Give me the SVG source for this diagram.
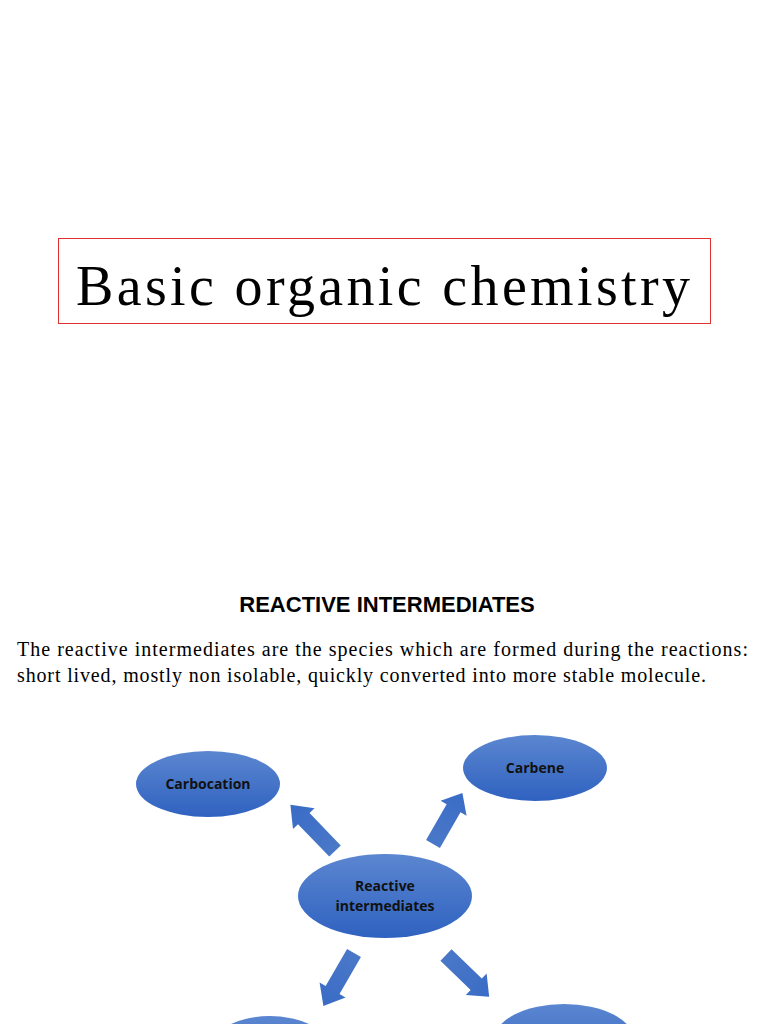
<svg xmlns="http://www.w3.org/2000/svg" width="768" height="1024" viewBox="0 0 768 1024">
<style>
.n{fill:url(#g)}
.l{font-family:"Open Sans","DejaVu Sans",sans-serif;font-weight:bold;font-size:14px;fill:#111;text-anchor:middle}
.a{fill:url(#ga)}
</style>
<defs>
<linearGradient id="g" x1="0" y1="0" x2="0" y2="1"><stop offset="0" stop-color="#5b86d0"/><stop offset="1" stop-color="#2f62c0"/></linearGradient>
<linearGradient id="ga" x1="0" y1="0" x2="1" y2="0"><stop offset="0" stop-color="#4a78c8"/><stop offset="1" stop-color="#3a6cc6"/></linearGradient>
<path id="arr" d="M0,-8 L42,-8 L42,-15 L60,0 L42,15 L42,8 L0,8 Z"/>
</defs>
<rect width="768" height="1024" fill="#fff"/>
<rect x="58.5" y="238.5" width="652" height="85" fill="none" stroke="#e03030" stroke-width="1"/>
<text x="383" y="305" font-family="Liberation Serif,serif" font-size="56" text-anchor="middle" textLength="614">Basic organic chemistry</text>
<text x="387" y="612" font-family="Liberation Sans,Arial,sans-serif" font-weight="bold" font-size="22" text-anchor="middle">REACTIVE INTERMEDIATES</text>
<text x="17" y="656" font-family="Liberation Serif,serif" font-size="20" textLength="731">The reactive intermediates are the species which are formed during the reactions:</text>
<text x="17" y="682" font-family="Liberation Serif,serif" font-size="20" textLength="689">short lived, mostly non isolable, quickly converted into more stable molecule.</text>
<g id="connectors">
<use href="#arr" class="a" transform="translate(335,851) rotate(-134) scale(1.07,1)"/>
<use href="#arr" class="a" transform="translate(433,844) rotate(-60) scale(0.98,1)"/>
<use href="#arr" class="a" transform="translate(354,953) rotate(120) scale(1.02,1)"/>
<use href="#arr" class="a" transform="translate(446,955) rotate(44) scale(1.0,1)"/>
</g>
<g id="carbocation"><ellipse class="n" cx="208" cy="784" rx="72" ry="33"/><text class="l" x="208" y="789">Carbocation</text></g>
<g id="carbene"><ellipse class="n" cx="535" cy="768" rx="72" ry="33"/><text class="l" x="535" y="773">Carbene</text></g>
<g id="reactive"><ellipse class="n" cx="385" cy="896" rx="87" ry="42"/><text class="l" x="385" y="891">Reactive</text><text class="l" x="385" y="911">intermediates</text></g>
<g id="bottom-left"><ellipse class="n" cx="270" cy="1052" rx="62" ry="36"/></g>
<g id="bottom-right"><ellipse class="n" cx="564" cy="1040" rx="70" ry="36"/></g>
</svg>
